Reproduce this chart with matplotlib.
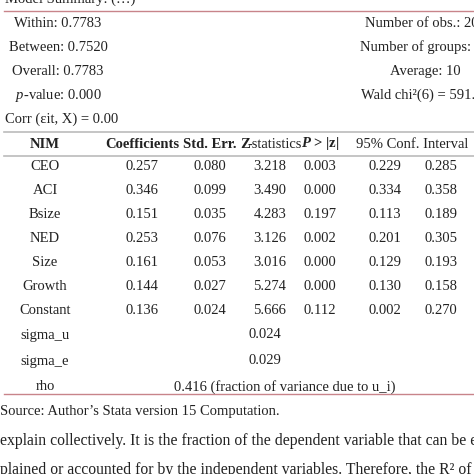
import matplotlib
matplotlib.use("Agg")
import matplotlib.pyplot as plt

left_stats = ["Within: 0.7783", "Between: 0.7520", "Overall: 0.7783", "$\\it{p}$-value: 0.000", "Corr (εit, X) = 0.00"]
right_stats = ["Number of obs.: 200", "Number of groups: 20", "Average: 10", "Wald chi²(6) = 591.27", ""]
variables = ["CEO", "ACI", "Bsize", "NED", "Size", "Growth", "Constant"]
coef = ["0.257", "0.346", "0.151", "0.253", "0.161", "0.144", "0.136"]
stderr = ["0.080", "0.099", "0.035", "0.076", "0.053", "0.027", "0.024"]
zstat = ["3.218", "3.490", "4.283", "3.126", "3.016", "5.274", "5.666"]
pval = ["0.003", "0.000", "0.197", "0.002", "0.000", "0.000", "0.112"]
ci_lo = ["0.229", "0.334", "0.113", "0.201", "0.129", "0.130", "0.002"]
ci_hi = ["0.285", "0.358", "0.189", "0.305", "0.193", "0.158", "0.270"]
extra_names = ["sigma_u", "sigma_e", "rho"]
extra_vals = ["0.024", "0.029", "0.416 (fraction of variance due to u_i)"]

plt.rcParams['font.family'] = ['Liberation Serif', 'DejaVu Serif']
plt.rcParams['mathtext.fontset'] = 'custom'
plt.rcParams['mathtext.rm'] = 'Liberation Serif'
plt.rcParams['mathtext.it'] = 'Liberation Serif:italic'
plt.rcParams['mathtext.bfit'] = 'Liberation Serif:italic:bold'
fig = plt.figure(figsize=(4.74, 4.74), dpi=100)
ax = fig.add_axes([0, 0, 1, 1])
ax.set_xlim(0, 474); ax.set_ylim(474, 0); ax.axis('off')
fs = 10.5
def t(x, y, s, **kw):
    kw.setdefault('ha', 'center')
    ax.text(x, y, s, va='center', fontsize=kw.pop('size', fs), color='#222222', **kw)

t(5, -1, "Model Summary: (…)", ha='left')
ax.plot([4, 474], [11, 11], color='#c8848a', lw=1)
ys_top = [23, 47, 71, 95, 119]
for y, l, r in zip(ys_top, left_stats, right_stats):
    t(58 if not l.startswith("Corr") else 62, y, l)
    if r:
        t(425, y, r)
ax.plot([4, 474], [132, 132], color='#bbbbbb', lw=1.2)
hy = 144
t(45, hy, "NIM", weight='bold')
t(142, hy, "Coefficients", weight='bold')
t(210, hy, "Std. Err.", weight='bold')
t(240, hy, "Z", weight='bold', ha='left')
t(248, hy, "-statistics", ha='left')
t(320, hy, "$\\mathbfit{P}$ > |z|", weight='bold')
t(412, hy, "95% Conf. Interval")
ax.plot([4, 474], [156, 156], color='#bbbbbb', lw=1.2)
ys = [166, 190, 214, 238, 262, 286, 310]
for i, y in enumerate(ys):
    t(45, y, variables[i]); t(142, y, coef[i]); t(210, y, stderr[i])
    t(270, y, zstat[i]); t(320, y, pval[i]); t(385, y, ci_lo[i]); t(441, y, ci_hi[i])
for y, n, v in zip([335, 361, 387], extra_names, extra_vals):
    t(45, y, n)
    if n == "rho":
        t(174, y, v, ha='left')
    else:
        t(265, y, v)
ax.plot([4, 474], [394, 394], color='#c8848a', lw=1)
t(0, 411, "Source: Author’s Stata version 15 Computation.", ha='left')
t(0, 441, "explain collectively. It is the fraction of the dependent variable that can be ex-", ha='left', size=11.3)
t(0, 470, "plained or accounted for by the independent variables. Therefore, the R² of", ha='left', size=11.3)
fig.savefig("out.png", dpi=100)
